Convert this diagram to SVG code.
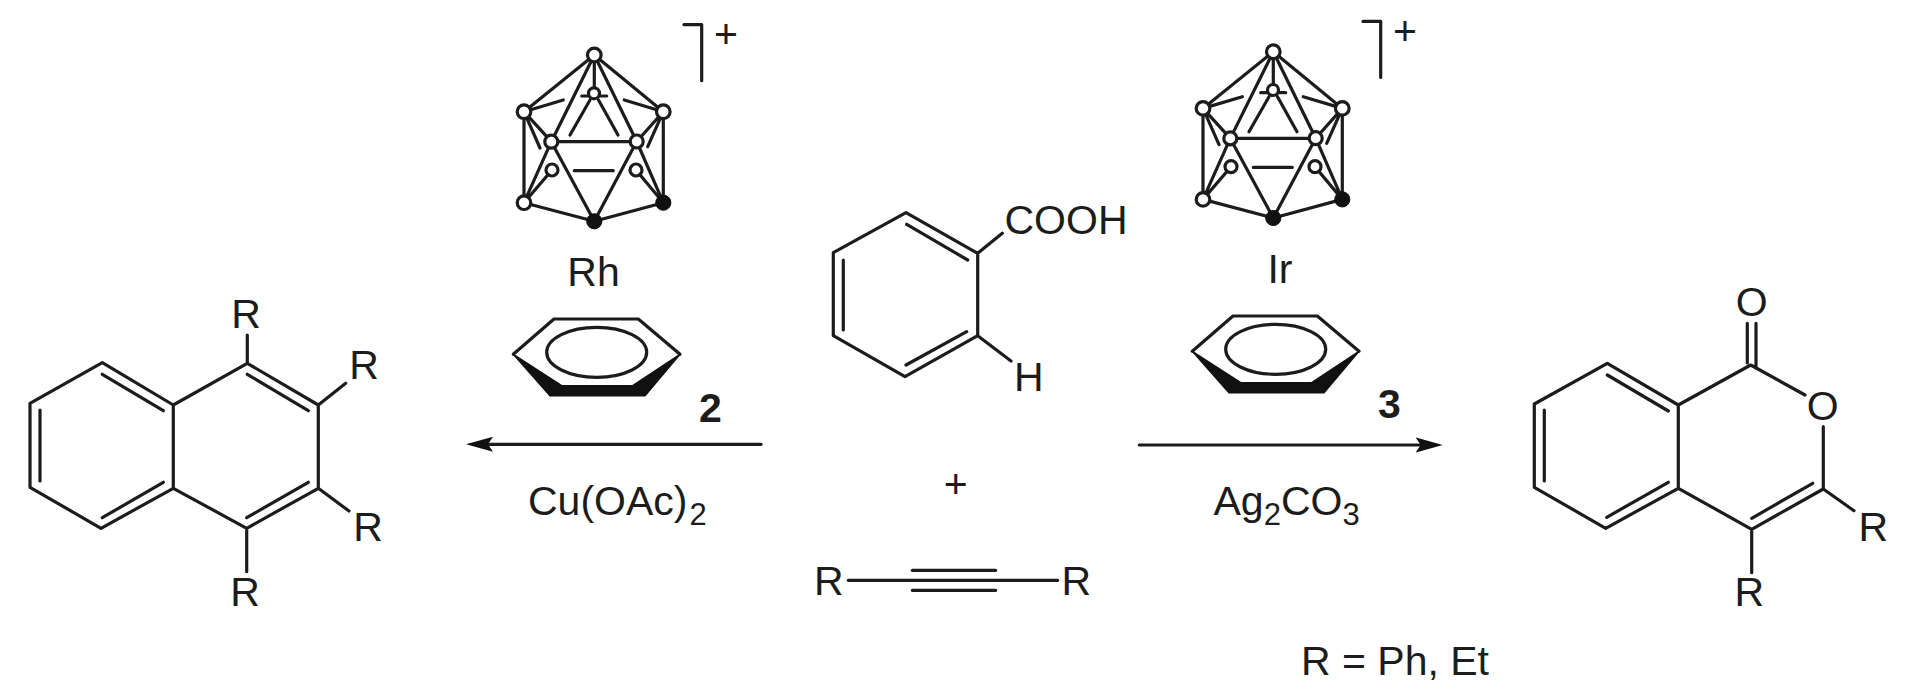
<svg xmlns="http://www.w3.org/2000/svg" xmlns:xlink="http://www.w3.org/1999/xlink" width="1905" height="696" viewBox="0 0 1905 696">
<style>
.b{fill:none;stroke:#1c1c1c;stroke-width:3.2;stroke-linecap:round;stroke-linejoin:round}
.t{font-family:"Liberation Sans",Arial,sans-serif;font-size:41px;fill:#1c1c1c}
.m{text-anchor:middle}
.bd{font-weight:bold}
.o{fill:#fff;stroke:#1c1c1c;stroke-width:3.2}
.f{fill:#111;stroke:#111;stroke-width:1}
</style>
<defs>
<marker id="head" markerUnits="userSpaceOnUse" markerWidth="28" markerHeight="18" refX="8.5" refY="9" orient="auto">
<path d="M0,1.5 L27,9 L0,16.5 L5,9 Z" fill="#111"/>
</marker>
<g id="cage">
<path class="b" d="M594.3,55 L524,111.7 M594.3,55 L663.3,111.7 M594.3,55 L551.3,141.7 M594.3,55 L636.7,141.5 M594.3,55 V93.3 M590,100 L570,135 M598.5,100 L618,135 M581.7,96 H606.7 M524,111.7 L563.3,100 M663.3,111.7 L624.3,100 M524,111.7 L551.3,141.7 M663.3,111.7 L636.7,141.5 M524,111.7 L540,148 M663.3,111.7 L647.7,146.7 M524,111.7 V202.7 M663.3,111.7 V202.7 M551.3,141.7 H636.7 M551.3,141.7 L524,202.7 M636.7,141.5 L663.3,202.7 M551.3,141.7 L594.3,221.3 M636.7,141.5 L594.3,221.3 M524,202.7 L594.3,221.3 M663.3,202.7 L594.3,221.3 M524,202.7 L552,170 M663.3,202.7 L636,170 M574.3,170.7 H613.3"/>
<circle class="o" cx="594.3" cy="55" r="6.8"/>
<circle class="o" cx="594" cy="93.3" r="5.5"/>
<circle class="o" cx="524" cy="111.7" r="6.8"/>
<circle class="o" cx="663.3" cy="111.7" r="6.8"/>
<circle class="o" cx="551.3" cy="141.7" r="6.5"/>
<circle class="o" cx="636.7" cy="141.5" r="6.5"/>
<circle class="o" cx="552" cy="170" r="6"/>
<circle class="o" cx="636" cy="170" r="6"/>
<circle class="o" cx="524" cy="202.7" r="6.8"/>
<circle class="f" cx="663.3" cy="202.7" r="7.6"/>
<circle class="f" cx="594.3" cy="221.3" r="7.6"/>
<path class="b" d="M684,24.7 H701.7 V80.7"/>
</g>
<g id="arene">
<path class="b" d="M513.3,354.3 L554,319 H638.3 L680,354.3"/>
<path d="M513.3,354.3 L550,395.7 H645 L680,354.3 L632.7,385.7 H561.7 Z" fill="#111" stroke="#111" stroke-width="1.5" stroke-linejoin="round"/>
<ellipse class="b" cx="596.7" cy="352.3" rx="50" ry="25"/>
</g>
</defs>

<g id="rh-catalyst">
<use href="#cage" xlink:href="#cage"/>
<use href="#arene" xlink:href="#arene"/>
<text class="t m" x="726" y="48">+</text>
<text class="t m" x="593.5" y="286">Rh</text>
<text class="t m bd" x="710.5" y="421.5">2</text>
</g>

<g id="ir-catalyst">
<use href="#cage" xlink:href="#cage" transform="translate(679,-3.3)"/>
<use href="#arene" xlink:href="#arene" transform="translate(679,-3)"/>
<text class="t m" x="1405" y="45">+</text>
<text class="t m" x="1280" y="282.7">Ir</text>
<text class="t m bd" x="1389.3" y="418.3">3</text>
</g>

<g id="naphthalene">
<path class="b" d="M102.3,362.7 L30,403.3 V487.3 L101,528.3 L173.3,488.3 V405 Z M173.3,405 L247.3,363.3 L318.3,405 V488.3 L246.7,528.3 L173.3,488.3 M40,410 V481 M102.3,374.3 L163.3,410.7 M102.3,517.7 L163.3,482.3 M247.3,374.3 L308.3,410.7 M246.7,517.7 L308.3,482.3 M247.3,363.3 V335 M318.3,405 L345.7,383.3 M318.3,488.3 L349,511 M246.7,528.3 V571.7"/>
<text class="t m" x="246" y="327.7">R</text>
<text class="t m" x="364" y="379.3">R</text>
<text class="t m" x="368" y="541">R</text>
<text class="t m" x="245" y="606">R</text>
</g>

<g id="benzoic-acid">
<path class="b" d="M906,212.7 L833.3,252.7 V335.7 L905,376.7 L977.7,335.7 V253.3 Z M843.3,260 V330 M906.7,224.3 L967.7,260 M906,365 L966.7,331.7 M977.7,253.3 L1002.3,233.3 M977.7,335.7 L1011,361"/>
<text class="t m" x="1066" y="234">COOH</text>
<text class="t m" x="1028.7" y="390.7">H</text>
</g>

<g id="plus">
<text class="t m" x="955.7" y="498">+</text>
</g>

<g id="alkyne">
<path class="b" d="M848.3,580.3 H1057.7 M912.3,570.3 H995.7 M912.3,590.3 H995.7"/>
<text class="t m" x="828.7" y="595">R</text>
<text class="t m" x="1076.3" y="595">R</text>
</g>

<g id="isocoumarin">
<path class="b" d="M1607.3,363.3 L1534.3,404 V487.3 L1605.7,528.3 L1678.3,488.3 V405 Z M1678.3,405 L1750.7,365 L1805,395 M1823.3,426.7 V489 L1751.7,529.3 L1678.3,488.3 M1747.3,363 V323.3 M1756,367 V323.3 M1751.7,518.3 L1812.7,483.3 M1823.3,489 L1854,510.7 M1751.7,529.3 V572.7 M1544.3,410 V481 M1607.3,375 L1668.3,411 M1606.7,517.3 L1668.3,482.3"/>
<text class="t m" x="1751.7" y="315.7">O</text>
<text class="t m" x="1822.7" y="420">O</text>
<text class="t m" x="1873.3" y="541">R</text>
<text class="t m" x="1749.3" y="606">R</text>
</g>

<g id="connectors">
<line class="b" x1="761" y1="444.3" x2="484.5" y2="444.3" marker-end="url(#head)"/>
<line class="b" x1="1139.3" y1="445" x2="1424.2" y2="445" marker-end="url(#head)"/>
</g>

<g id="reagent-left">
<text class="t" x="528" y="515">Cu(OAc)<tspan font-size="31" dx="2" dy="10">2</tspan></text>
</g>
<g id="reagent-right">
<text class="t" x="1213.5" y="515">Ag<tspan font-size="31" dy="10">2</tspan><tspan dy="-10">CO</tspan><tspan font-size="31" dy="10">3</tspan></text>
</g>
<g id="legend">
<text class="t" x="1301" y="675">R = Ph, Et</text>
</g>
</svg>
